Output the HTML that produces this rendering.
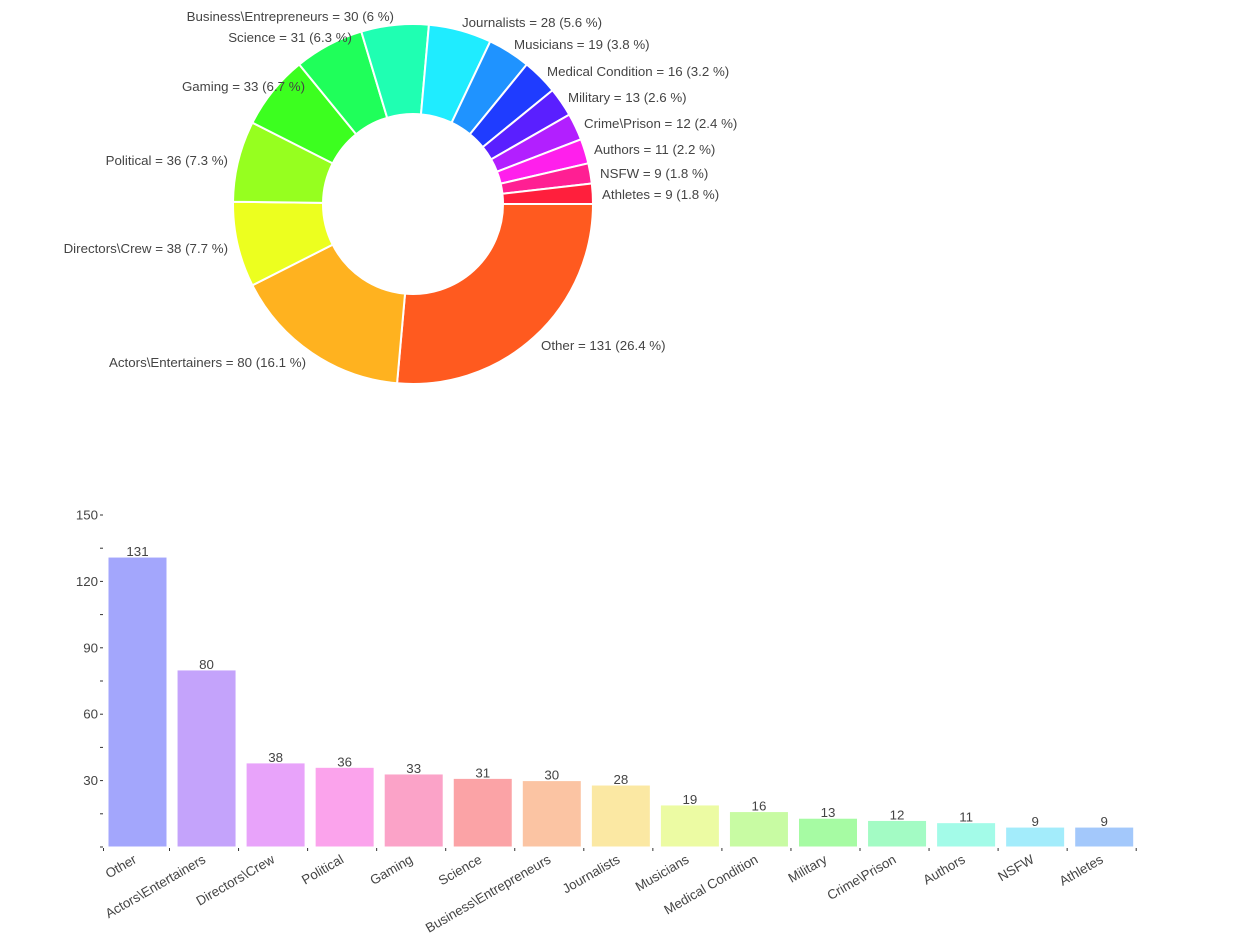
<!DOCTYPE html>
<html><head><meta charset="utf-8"><style>
body{margin:0;background:#fff;}
svg{display:block;font-family:"Liberation Sans",sans-serif;}
</style></head><body>
<svg id="chart" width="1245" height="952"></svg>
<script>
const categories=["Other","Actors\\Entertainers","Directors\\Crew","Political","Gaming","Science","Business\\Entrepreneurs","Journalists","Musicians","Medical Condition","Military","Crime\\Prison","Authors","NSFW","Athletes"];
const counts=[131,80,38,36,33,31,30,28,19,16,13,12,11,9,9];
const pctLabels=["26.4","16.1","7.7","7.3","6.7","6.3","6","5.6","3.8","3.2","2.6","2.4","2.2","1.8","1.8"];
const yTicks=[0,30,60,90,120,150];
const donutColors=["#ff5a1f","#ffb21f","#ecff1f","#96ff1f","#3cff1f","#1fff5a","#1fffb2","#1fecff","#1f93ff","#1f3cff","#5a1fff","#b21fff","#ff1fec","#ff1f93","#ff1f3c"];
const barColors=["#a3a6fc","#c4a3fb","#e8a3fa","#fba3ec","#fba3c8","#fba3a6","#fbc4a3","#fbe8a3","#ecfba3","#c8fba3","#a6fba3","#a3fbc4","#a3fbe8","#a3ecfb","#a3c8fb"];
// donut label layout (x, y, anchor)
const labelLayout=[[541,350,"start"],[306,367,"end"],[228,253,"end"],[228,165,"end"],[305,91,"end"],[352,42,"end"],[394,21,"end"],[462,27,"start"],[514,49,"start"],[547,76,"start"],[568,102,"start"],[584,128,"start"],[594,154,"start"],[600,178,"start"],[602,199,"start"]];
const NS="http://www.w3.org/2000/svg";
const svg=document.getElementById('chart');
function mk(t,a,p){const e=document.createElementNS(NS,t);for(const k in a)e.setAttribute(k,a[k]);(p||svg).appendChild(e);return e;}
const FS=13.3;
// donut
const cx=413,cy=204,R=180,r=90;
const total=counts.reduce((a,b)=>a+b,0);
let ang=0;
counts.forEach((v,i)=>{
  const a0=ang,a1=ang+v/total*2*Math.PI;ang=a1;
  const lg=(a1-a0)>Math.PI?1:0;
  const P=(rr,a)=>(cx+rr*Math.cos(a)).toFixed(2)+","+(cy+rr*Math.sin(a)).toFixed(2);
  const d="M"+P(R,a0)+"A"+R+","+R+" 0 "+lg+" 1 "+P(R,a1)+"L"+P(r,a1)+"A"+r+","+r+" 0 "+lg+" 0 "+P(r,a0)+"Z";
  const s=mk('path',{d:d,fill:donutColors[i],stroke:'#fff','stroke-width':2});
  
  
  const L=labelLayout[i];
  const t=mk('text',{x:L[0],y:L[1],'text-anchor':L[2],'font-size':FS,fill:'#444'});
  t.textContent=categories[i]+" = "+v+" ("+pctLabels[i]+" %)";
  
  
});
// bar chart
const y0=847,yTop=515,yMax=150,x0=103,step=69.05,bw=59;
const yS=v=>y0-(v/yMax)*(y0-yTop);
const xS=i=>x0+5+i*step;
yTicks.forEach(v=>{
  const t=mk('text',{x:98,y:yS(v)+4.5,'text-anchor':'end','font-size':FS,fill:'#444'});
  if(v>0)t.textContent=v;
  
  
  mk('line',{x1:100,x2:103,y1:yS(v),y2:yS(v),stroke:'#333'});
  if(v<150)mk('line',{x1:100,x2:103,y1:yS(v+15),y2:yS(v+15),stroke:'#333'});
});
counts.forEach((v,i)=>{
  const x=xS(i);
  const b=mk('rect',{x:x,y:yS(v),width:bw,height:y0-yS(v),fill:barColors[i],stroke:'#fff','stroke-width':1});
  
  
  const vt=mk('text',{x:x+bw/2,y:yS(v)-1,'text-anchor':'middle','font-size':FS,fill:'#444'});
  vt.textContent=v;
  
  
  mk('line',{x1:x+bw+2.5,x2:x+bw+2.5,y1:848,y2:851,stroke:'#333'});
  const lx=x+bw/2,ly=862;
  const lt=mk('text',{x:lx,y:ly,'text-anchor':'end','font-size':FS,fill:'#444',transform:'rotate(-30 '+lx+' '+ly+')'});
  lt.textContent=categories[i];
  
  
});
mk('line',{x1:103.5,x2:103.5,y1:848,y2:851,stroke:'#333'});
</script>
</body></html>
